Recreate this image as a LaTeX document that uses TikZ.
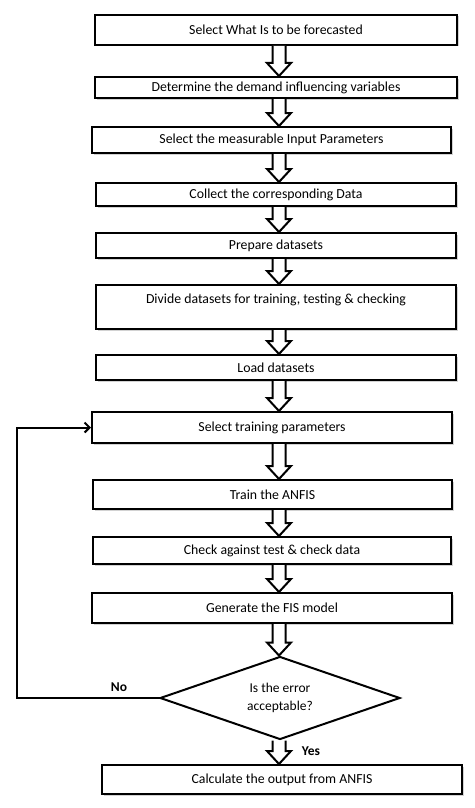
\documentclass[tikz,border=0pt]{standalone}
\usepackage{fontspec}
\setmainfont{Carlito}
\usetikzlibrary{shapes.geometric,arrows.meta,shadows,calc}
\tikzset{
  box/.style={draw, line width=2pt, fill=white, rectangle, inner sep=0pt,
    drop shadow={opacity=0.35, shadow xshift=1.5pt, shadow yshift=-1.5pt},
    font=\fontsize{13.8}{16}\selectfont},
  decision/.style={draw, line width=2pt, fill=white, diamond, inner sep=0pt,
    minimum width=240pt, minimum height=83pt, aspect=2.9, align=center,
    font=\fontsize{13.5}{18}\selectfont},
  blockarrow/.style={draw, line width=2pt, fill=white, line join=miter},
  feedback/.style={draw, line width=2pt, -{Straight Barb[length=5pt,width=10pt]}},
  answer/.style={font=\bfseries\fontsize{13.5}{15}\selectfont},
}
\newcommand{\barrow}[2]{%
  \draw[blockarrow] let \p1=(#1.south), \p2=(#2.north) in
    (272.5pt,\y1) -- (272.5pt,\y2+13pt) -- (267pt,\y2+13pt) -- (279pt,\y2)
    -- (291pt,\y2+13pt) -- (285.5pt,\y2+13pt) -- (285.5pt,\y1);}
\begin{document}
\begin{tikzpicture}[x=1pt,y=-1pt]
\useasboundingbox[fill=white] (0,0) rectangle (474,808);
\node[box, minimum width=362pt, minimum height=30pt] (b1) at (276,30) {Select What Is to be forecasted};
\node[box, minimum width=362pt, minimum height=21pt] (b2) at (276,87.5) {Determine the demand influencing variables};
\node[box, minimum width=359pt, minimum height=26pt] (b3) at (271.5,140) {Select the measurable Input Parameters};
\node[box, minimum width=360pt, minimum height=23pt] (b4) at (276,194.5) {Collect the corresponding Data};
\node[box, minimum width=360pt, minimum height=25pt] (b5) at (276,245.5) {Prepare datasets};
\node[box, minimum width=360pt, minimum height=44pt, text height=9pt, text depth=17pt] (b6) at (276,307) {Divide datasets for training, testing \& checking};
\node[box, minimum width=360pt, minimum height=25pt] (b7) at (276,367.5) {Load datasets};
\node[box, minimum width=360pt, minimum height=31pt] (b8) at (272,427.5) {Select training parameters};
\node[box, minimum width=359pt, minimum height=29pt] (b9) at (272.5,494.5) {Train the ANFIS};
\node[box, minimum width=358pt, minimum height=27pt] (b10) at (272,550.5) {Check against test \& check data};
\node[box, minimum width=360pt, minimum height=30pt] (b11) at (272,608) {Generate the FIS model};
\node[box, minimum width=360pt, minimum height=29pt] (b13) at (282,779.5) {Calculate the output from ANFIS};
\draw[feedback] (280,698) ++(-120,0) -- (17,698) |- (b8.west);
\node[decision] (d) at (280,698) {Is the error\\acceptable?};
\barrow{b1}{b2}
\barrow{b2}{b3}
\barrow{b3}{b4}
\barrow{b4}{b5}
\barrow{b5}{b6}
\barrow{b6}{b7}
\barrow{b7}{b8}
\barrow{b8}{b9}
\barrow{b9}{b10}
\barrow{b10}{b11}
\barrow{b11}{d}
\barrow{d}{b13}
\node[answer] (no) at (119,687) {No};
\node[answer] (yes) at (311,751) {Yes};
\end{tikzpicture}
\end{document}
